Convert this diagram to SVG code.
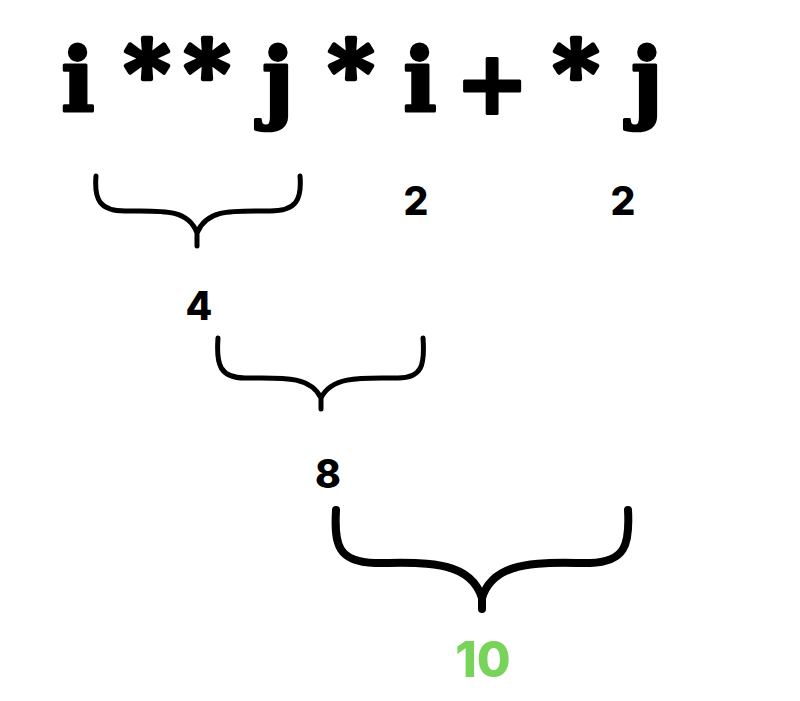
<svg xmlns="http://www.w3.org/2000/svg" width="800" height="701" viewBox="0 0 800 701">
<style>
.expr{font-family:"DejaVu Serif","Liberation Serif",serif;font-weight:bold;font-size:88px;fill:#000;stroke:#000;stroke-width:3;stroke-linejoin:round;text-anchor:middle}
.ast{stroke-width:4.5}
.num{font-family:"Inter","Liberation Sans",sans-serif;font-weight:800;fill:#000;text-anchor:middle}
.brace{fill:none;stroke:#000;stroke-linecap:round;stroke-linejoin:round}
</style>
<rect width="800" height="701" fill="#fff"/>
<g id="expression">
<text class="expr"><tspan x="78" y="111">i</tspan><tspan class="ast" x="147" y="103">*</tspan><tspan class="ast" x="207" y="103">*</tspan><tspan x="278" y="111">j</tspan><tspan class="ast" x="351" y="103">*</tspan><tspan x="420" y="111">i</tspan><tspan x="492" y="114">+</tspan><tspan class="ast" x="576" y="103">*</tspan><tspan x="647" y="111">j</tspan></text>
</g>
<g id="connectors">
<path class="brace" stroke-width="5" d="M96,176 C94,200 100,211 125,211 C160,211 188,208 197,233 L197,246 M197,233 C207,208 235,211 270,211 C296,211 302,200 300,176"/>
<path class="brace" stroke-width="5" d="M218,338 C216,365 220,378 245,378 C280,378 310,375 321,398 L321,409 M321,398 C332,375 365,378 398,378 C422,378 425,365 423,338"/>
<path class="brace" stroke-width="8" d="M336,510 C334,545 338,562 375,563 C420,563 470,558 482,598 L482,609 M482,598 C494,558 545,563 590,563 C625,562 630,545 628,510"/>
</g>
<g id="n2a"><text class="num" x="416" y="215" font-size="39">2</text></g>
<g id="n2b"><text class="num" x="623" y="215" font-size="39">2</text></g>
<g id="n4"><text class="num" x="199" y="320" font-size="39">4</text></g>
<g id="n8"><text class="num" x="328" y="488" font-size="39">8</text></g>
<g id="n10"><text class="num" x="483" y="677" font-size="49" style="fill:#78d35a">10</text></g>
</svg>
